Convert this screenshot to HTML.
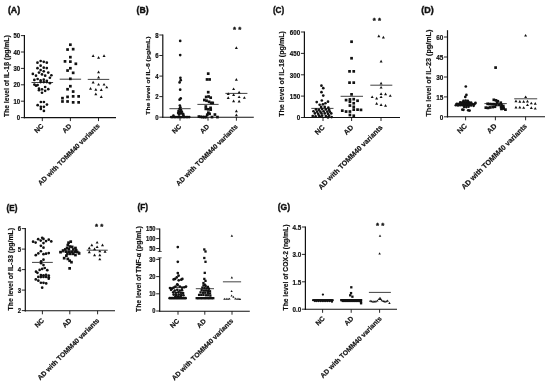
<!DOCTYPE html>
<html lang="en"><head><meta charset="utf-8"><title>Figure</title>
<style>
html,body{margin:0;padding:0;background:#fff;}
body{width:550px;height:385px;overflow:hidden;}
svg{display:block;font-family:"Liberation Sans", Arial, Helvetica, sans-serif;fill:#111;}
</style></head>
<body>
<svg width="550" height="385" viewBox="0 0 550 385">
<rect x="0" y="0" width="550" height="385" fill="#ffffff"/>
<g id="panelA">
<line x1="24.40" y1="35.00" x2="24.40" y2="118.20" stroke="#111" stroke-width="1.2"/>
<line x1="23.80" y1="117.60" x2="116.00" y2="117.60" stroke="#111" stroke-width="1.05"/>
<line x1="20.90" y1="117.60" x2="24.40" y2="117.60" stroke="#111" stroke-width="0.9"/>
<text transform="translate(20.20 120.22) scale(1 1.22)" font-size="6.0" text-anchor="end" font-weight="bold" stroke="#111" stroke-width="0.18">0</text>
<line x1="20.90" y1="101.20" x2="24.40" y2="101.20" stroke="#111" stroke-width="0.9"/>
<text transform="translate(20.20 103.82) scale(1 1.22)" font-size="6.0" text-anchor="end" font-weight="bold" stroke="#111" stroke-width="0.18">10</text>
<line x1="20.90" y1="84.80" x2="24.40" y2="84.80" stroke="#111" stroke-width="0.9"/>
<text transform="translate(20.20 87.42) scale(1 1.22)" font-size="6.0" text-anchor="end" font-weight="bold" stroke="#111" stroke-width="0.18">20</text>
<line x1="20.90" y1="68.40" x2="24.40" y2="68.40" stroke="#111" stroke-width="0.9"/>
<text transform="translate(20.20 71.02) scale(1 1.22)" font-size="6.0" text-anchor="end" font-weight="bold" stroke="#111" stroke-width="0.18">30</text>
<line x1="20.90" y1="52.00" x2="24.40" y2="52.00" stroke="#111" stroke-width="0.9"/>
<text transform="translate(20.20 54.62) scale(1 1.22)" font-size="6.0" text-anchor="end" font-weight="bold" stroke="#111" stroke-width="0.18">40</text>
<line x1="20.90" y1="35.60" x2="24.40" y2="35.60" stroke="#111" stroke-width="0.9"/>
<text transform="translate(20.20 38.22) scale(1 1.22)" font-size="6.0" text-anchor="end" font-weight="bold" stroke="#111" stroke-width="0.18">50</text>
<line x1="42.30" y1="117.60" x2="42.30" y2="121.10" stroke="#111" stroke-width="0.9"/>
<text x="44.00" y="126.40" font-size="6.85" text-anchor="end" font-weight="bold" transform="rotate(-45 44.00 126.40)" stroke="#111" stroke-width="0.18">NC</text>
<line x1="70.40" y1="117.60" x2="70.40" y2="121.10" stroke="#111" stroke-width="0.9"/>
<text x="72.10" y="126.40" font-size="6.85" text-anchor="end" font-weight="bold" transform="rotate(-45 72.10 126.40)" stroke="#111" stroke-width="0.18">AD</text>
<line x1="98.50" y1="117.60" x2="98.50" y2="121.10" stroke="#111" stroke-width="0.9"/>
<text x="100.20" y="126.40" font-size="6.85" text-anchor="end" font-weight="bold" transform="rotate(-45 100.20 126.40)" stroke="#111" stroke-width="0.18">AD with TOMM40 variants</text>
<text transform="translate(9.30 76.15) rotate(-90) scale(1 1)" font-size="6.75" text-anchor="middle" font-weight="bold" stroke="#111" stroke-width="0.18">The level of IL-1β (pg/mL)</text>
<text x="7.9" y="12.95" font-size="8.6" font-weight="bold" textLength="12.3" lengthAdjust="spacingAndGlyphs" stroke="#111" stroke-width="0.4">(A)</text>
<circle cx="37.47" cy="62.64" r="1.35"/>
<circle cx="40.64" cy="61.00" r="1.35"/>
<circle cx="43.75" cy="61.82" r="1.35"/>
<circle cx="46.80" cy="62.64" r="1.35"/>
<circle cx="40.64" cy="65.64" r="1.35"/>
<circle cx="37.47" cy="68.20" r="1.35"/>
<circle cx="43.75" cy="67.71" r="1.35"/>
<circle cx="46.80" cy="68.09" r="1.35"/>
<circle cx="40.64" cy="70.11" r="1.35"/>
<circle cx="43.75" cy="71.36" r="1.35"/>
<circle cx="32.84" cy="73.91" r="1.35"/>
<circle cx="36.00" cy="75.71" r="1.35"/>
<circle cx="39.00" cy="72.55" r="1.35"/>
<circle cx="42.00" cy="74.45" r="1.35"/>
<circle cx="45.16" cy="75.71" r="1.35"/>
<circle cx="48.27" cy="72.55" r="1.35"/>
<circle cx="51.38" cy="75.27" r="1.35"/>
<circle cx="49.91" cy="77.73" r="1.35"/>
<circle cx="34.36" cy="79.91" r="1.35"/>
<circle cx="37.64" cy="78.98" r="1.35"/>
<circle cx="40.64" cy="80.45" r="1.35"/>
<circle cx="43.75" cy="79.64" r="1.35"/>
<circle cx="46.80" cy="80.73" r="1.35"/>
<circle cx="40.64" cy="82.09" r="1.35"/>
<circle cx="43.75" cy="82.09" r="1.35"/>
<circle cx="46.80" cy="82.09" r="1.35"/>
<circle cx="49.91" cy="83.18" r="1.35"/>
<circle cx="34.36" cy="84.55" r="1.35"/>
<circle cx="36.00" cy="85.64" r="1.35"/>
<circle cx="37.64" cy="85.09" r="1.35"/>
<circle cx="39.00" cy="88.64" r="1.35"/>
<circle cx="39.00" cy="90.27" r="1.35"/>
<circle cx="42.00" cy="89.35" r="1.35"/>
<circle cx="45.16" cy="87.00" r="1.35"/>
<circle cx="45.16" cy="90.82" r="1.35"/>
<circle cx="48.27" cy="89.18" r="1.35"/>
<circle cx="42.00" cy="92.73" r="1.35"/>
<circle cx="40.84" cy="101.98" r="1.35"/>
<circle cx="43.89" cy="101.98" r="1.35"/>
<circle cx="37.65" cy="105.16" r="1.35"/>
<circle cx="46.95" cy="104.53" r="1.35"/>
<circle cx="40.84" cy="106.82" r="1.35"/>
<circle cx="43.89" cy="106.82" r="1.35"/>
<circle cx="40.84" cy="108.98" r="1.35"/>
<circle cx="43.89" cy="110.89" r="1.35"/>
<line x1="31.50" y1="82.50" x2="53.10" y2="82.50" stroke="#111" stroke-width="0.8"/>
<rect x="69.01" y="43.36" width="2.7" height="2.7"/>
<rect x="66.21" y="48.20" width="2.7" height="2.7"/>
<rect x="71.81" y="47.81" width="2.7" height="2.7"/>
<rect x="69.01" y="55.83" width="2.7" height="2.7"/>
<rect x="63.67" y="60.03" width="2.7" height="2.7"/>
<rect x="69.01" y="60.29" width="2.7" height="2.7"/>
<rect x="74.49" y="62.45" width="2.7" height="2.7"/>
<rect x="69.01" y="66.90" width="2.7" height="2.7"/>
<rect x="66.21" y="69.20" width="2.7" height="2.7"/>
<rect x="71.81" y="71.49" width="2.7" height="2.7"/>
<rect x="69.01" y="77.47" width="2.7" height="2.7"/>
<rect x="69.01" y="84.85" width="2.7" height="2.7"/>
<rect x="66.21" y="87.90" width="2.7" height="2.7"/>
<rect x="71.81" y="90.20" width="2.7" height="2.7"/>
<rect x="66.21" y="95.54" width="2.7" height="2.7"/>
<rect x="71.81" y="95.03" width="2.7" height="2.7"/>
<rect x="77.29" y="95.03" width="2.7" height="2.7"/>
<rect x="61.12" y="96.81" width="2.7" height="2.7"/>
<rect x="61.12" y="100.12" width="2.7" height="2.7"/>
<rect x="66.21" y="100.12" width="2.7" height="2.7"/>
<rect x="71.81" y="101.01" width="2.7" height="2.7"/>
<rect x="77.29" y="101.01" width="2.7" height="2.7"/>
<line x1="59.70" y1="79.20" x2="81.10" y2="79.20" stroke="#111" stroke-width="0.8"/>
<path d="M93.13 54.34L94.63 57.04L91.63 57.04Z"/>
<path d="M98.58 56.01L100.08 58.71L97.08 58.71Z"/>
<path d="M104.04 54.34L105.54 57.04L102.54 57.04Z"/>
<path d="M98.58 70.56L100.08 73.26L97.08 73.26Z"/>
<path d="M98.58 75.78L100.08 78.48L97.08 78.48Z"/>
<path d="M93.13 80.70L94.63 83.40L91.63 83.40Z"/>
<path d="M98.58 82.88L100.08 85.58L97.08 85.58Z"/>
<path d="M104.04 82.88L105.54 85.58L102.54 85.58Z"/>
<path d="M106.73 85.64L108.23 88.34L105.23 88.34Z"/>
<path d="M90.51 87.09L92.01 89.80L89.01 89.80Z"/>
<path d="M95.82 87.97L97.32 90.67L94.32 90.67Z"/>
<path d="M101.27 88.33L102.77 91.03L99.77 91.03Z"/>
<path d="M95.82 92.47L97.32 95.17L94.32 95.17Z"/>
<path d="M101.27 95.25L102.77 97.95L99.77 97.95Z"/>
<line x1="87.75" y1="79.40" x2="109.25" y2="79.40" stroke="#111" stroke-width="0.8"/>
</g>
<g id="panelB">
<line x1="162.80" y1="34.40" x2="162.80" y2="117.80" stroke="#111" stroke-width="1.2"/>
<line x1="162.20" y1="117.20" x2="253.80" y2="117.20" stroke="#111" stroke-width="1.05"/>
<line x1="159.30" y1="117.20" x2="162.80" y2="117.20" stroke="#111" stroke-width="0.9"/>
<text transform="translate(158.60 119.82) scale(1 1.22)" font-size="6.0" text-anchor="end" font-weight="bold" stroke="#111" stroke-width="0.18">0</text>
<line x1="159.30" y1="96.60" x2="162.80" y2="96.60" stroke="#111" stroke-width="0.9"/>
<text transform="translate(158.60 99.22) scale(1 1.22)" font-size="6.0" text-anchor="end" font-weight="bold" stroke="#111" stroke-width="0.18">2</text>
<line x1="159.30" y1="76.10" x2="162.80" y2="76.10" stroke="#111" stroke-width="0.9"/>
<text transform="translate(158.60 78.72) scale(1 1.22)" font-size="6.0" text-anchor="end" font-weight="bold" stroke="#111" stroke-width="0.18">4</text>
<line x1="159.30" y1="55.50" x2="162.80" y2="55.50" stroke="#111" stroke-width="0.9"/>
<text transform="translate(158.60 58.12) scale(1 1.22)" font-size="6.0" text-anchor="end" font-weight="bold" stroke="#111" stroke-width="0.18">6</text>
<line x1="159.30" y1="35.00" x2="162.80" y2="35.00" stroke="#111" stroke-width="0.9"/>
<text transform="translate(158.60 37.62) scale(1 1.22)" font-size="6.0" text-anchor="end" font-weight="bold" stroke="#111" stroke-width="0.18">8</text>
<line x1="180.00" y1="117.20" x2="180.00" y2="120.70" stroke="#111" stroke-width="0.9"/>
<text x="181.70" y="127.00" font-size="6.85" text-anchor="end" font-weight="bold" transform="rotate(-45 181.70 127.00)" stroke="#111" stroke-width="0.18">NC</text>
<line x1="208.00" y1="117.20" x2="208.00" y2="120.70" stroke="#111" stroke-width="0.9"/>
<text x="209.70" y="127.00" font-size="6.85" text-anchor="end" font-weight="bold" transform="rotate(-45 209.70 127.00)" stroke="#111" stroke-width="0.18">AD</text>
<line x1="236.40" y1="117.20" x2="236.40" y2="120.70" stroke="#111" stroke-width="0.9"/>
<text x="238.10" y="127.00" font-size="6.85" text-anchor="end" font-weight="bold" transform="rotate(-45 238.10 127.00)" stroke="#111" stroke-width="0.18">AD with TOMM40 variants</text>
<text transform="translate(150.30 75.60) rotate(-90) scale(1 0.87)" font-size="6.82" text-anchor="middle" font-weight="bold" stroke="#111" stroke-width="0.18">The level of IL-6 (pg/mL)</text>
<text x="136.6" y="12.95" font-size="8.6" font-weight="bold" textLength="12.0" lengthAdjust="spacingAndGlyphs" stroke="#111" stroke-width="0.4">(B)</text>
<text x="234.58 239.82" y="31.60" font-size="7.8" font-weight="bold" text-anchor="middle" stroke="#111" stroke-width="0.35">**</text>
<circle cx="180.20" cy="40.90" r="1.35"/>
<circle cx="180.20" cy="55.05" r="1.35"/>
<circle cx="180.40" cy="77.85" r="1.35"/>
<circle cx="180.70" cy="80.20" r="1.35"/>
<circle cx="179.60" cy="82.40" r="1.35"/>
<circle cx="180.20" cy="89.70" r="1.35"/>
<circle cx="180.70" cy="98.40" r="1.35"/>
<circle cx="179.60" cy="99.70" r="1.35"/>
<circle cx="179.85" cy="105.50" r="1.35"/>
<circle cx="180.36" cy="107.27" r="1.35"/>
<circle cx="179.49" cy="108.87" r="1.35"/>
<circle cx="180.95" cy="109.82" r="1.35"/>
<circle cx="178.55" cy="110.91" r="1.35"/>
<circle cx="180.22" cy="111.49" r="1.35"/>
<circle cx="181.82" cy="111.64" r="1.35"/>
<circle cx="178.18" cy="112.95" r="1.35"/>
<circle cx="180.00" cy="113.31" r="1.35"/>
<circle cx="181.67" cy="113.45" r="1.35"/>
<circle cx="183.13" cy="113.82" r="1.35"/>
<circle cx="183.42" cy="115.13" r="1.35"/>
<circle cx="179.05" cy="114.55" r="1.35"/>
<circle cx="173.45" cy="115.64" r="1.35"/>
<circle cx="171.20" cy="117.10" r="1.35"/>
<circle cx="172.70" cy="117.10" r="1.35"/>
<circle cx="174.20" cy="117.10" r="1.35"/>
<circle cx="175.70" cy="117.10" r="1.35"/>
<circle cx="177.20" cy="117.10" r="1.35"/>
<circle cx="178.70" cy="117.10" r="1.35"/>
<circle cx="180.20" cy="117.10" r="1.35"/>
<circle cx="181.70" cy="117.10" r="1.35"/>
<circle cx="183.20" cy="117.10" r="1.35"/>
<circle cx="184.70" cy="117.10" r="1.35"/>
<circle cx="186.20" cy="117.10" r="1.35"/>
<circle cx="187.70" cy="117.10" r="1.35"/>
<circle cx="189.20" cy="117.10" r="1.35"/>
<line x1="169.40" y1="108.70" x2="190.60" y2="108.70" stroke="#111" stroke-width="0.8"/>
<rect x="206.87" y="72.29" width="2.7" height="2.7"/>
<rect x="205.70" y="78.10" width="2.7" height="2.7"/>
<rect x="208.25" y="78.10" width="2.7" height="2.7"/>
<rect x="206.87" y="90.83" width="2.7" height="2.7"/>
<rect x="204.83" y="95.60" width="2.7" height="2.7"/>
<rect x="207.23" y="95.16" width="2.7" height="2.7"/>
<rect x="209.34" y="96.32" width="2.7" height="2.7"/>
<rect x="203.01" y="98.65" width="2.7" height="2.7"/>
<rect x="205.20" y="99.38" width="2.7" height="2.7"/>
<rect x="207.74" y="100.47" width="2.7" height="2.7"/>
<rect x="209.78" y="101.56" width="2.7" height="2.7"/>
<rect x="211.38" y="101.56" width="2.7" height="2.7"/>
<rect x="204.47" y="105.20" width="2.7" height="2.7"/>
<rect x="204.47" y="107.52" width="2.7" height="2.7"/>
<rect x="206.87" y="107.96" width="2.7" height="2.7"/>
<rect x="209.20" y="106.50" width="2.7" height="2.7"/>
<rect x="209.34" y="108.25" width="2.7" height="2.7"/>
<rect x="207.01" y="111.38" width="2.7" height="2.7"/>
<rect x="205.92" y="113.34" width="2.7" height="2.7"/>
<rect x="208.25" y="112.47" width="2.7" height="2.7"/>
<rect x="213.56" y="113.20" width="2.7" height="2.7"/>
<rect x="197.56" y="115.23" width="2.7" height="2.7"/>
<rect x="199.38" y="115.52" width="2.7" height="2.7"/>
<rect x="201.20" y="115.74" width="2.7" height="2.7"/>
<rect x="203.01" y="115.74" width="2.7" height="2.7"/>
<rect x="204.83" y="115.74" width="2.7" height="2.7"/>
<rect x="210.65" y="115.74" width="2.7" height="2.7"/>
<rect x="216.10" y="115.74" width="2.7" height="2.7"/>
<line x1="197.40" y1="104.40" x2="218.60" y2="104.40" stroke="#111" stroke-width="0.8"/>
<path d="M236.36 46.30L237.86 49.00L234.86 49.00Z"/>
<path d="M236.36 77.97L237.86 80.67L234.86 80.67Z"/>
<path d="M233.60 87.42L235.10 90.12L232.10 90.12Z"/>
<path d="M239.13 90.70L240.63 93.40L237.63 93.40Z"/>
<path d="M228.22 92.30L229.72 95.00L226.72 95.00Z"/>
<path d="M233.60 93.25L235.10 95.95L232.10 95.95Z"/>
<path d="M239.13 95.42L240.63 98.12L237.63 98.12Z"/>
<path d="M228.22 96.36L229.72 99.06L226.72 99.06Z"/>
<path d="M244.36 96.16L245.86 98.86L242.86 98.86Z"/>
<path d="M233.60 99.56L235.10 102.27L232.10 102.27Z"/>
<path d="M239.13 99.78L240.63 102.48L237.63 102.48Z"/>
<path d="M236.36 109.61L237.86 112.31L234.86 112.31Z"/>
<path d="M236.36 113.61L237.86 116.31L234.86 116.31Z"/>
<line x1="225.40" y1="93.40" x2="247.40" y2="93.40" stroke="#111" stroke-width="0.8"/>
</g>
<g id="panelC">
<line x1="304.40" y1="31.40" x2="304.40" y2="118.10" stroke="#111" stroke-width="1.2"/>
<line x1="303.80" y1="117.50" x2="400.00" y2="117.50" stroke="#111" stroke-width="1.05"/>
<line x1="300.90" y1="117.50" x2="304.40" y2="117.50" stroke="#111" stroke-width="0.9"/>
<text transform="translate(300.20 120.21) scale(1 1.22)" font-size="6.2" text-anchor="end" font-weight="bold" stroke="#111" stroke-width="0.18">0</text>
<line x1="300.90" y1="96.10" x2="304.40" y2="96.10" stroke="#111" stroke-width="0.9"/>
<text transform="translate(300.20 98.81) scale(1 1.22)" font-size="6.2" text-anchor="end" font-weight="bold" stroke="#111" stroke-width="0.18">150</text>
<line x1="300.90" y1="74.80" x2="304.40" y2="74.80" stroke="#111" stroke-width="0.9"/>
<text transform="translate(300.20 77.51) scale(1 1.22)" font-size="6.2" text-anchor="end" font-weight="bold" stroke="#111" stroke-width="0.18">300</text>
<line x1="300.90" y1="53.40" x2="304.40" y2="53.40" stroke="#111" stroke-width="0.9"/>
<text transform="translate(300.20 56.11) scale(1 1.22)" font-size="6.2" text-anchor="end" font-weight="bold" stroke="#111" stroke-width="0.18">450</text>
<line x1="300.90" y1="32.00" x2="304.40" y2="32.00" stroke="#111" stroke-width="0.9"/>
<text transform="translate(300.20 34.71) scale(1 1.22)" font-size="6.2" text-anchor="end" font-weight="bold" stroke="#111" stroke-width="0.18">600</text>
<line x1="323.00" y1="117.50" x2="323.00" y2="121.00" stroke="#111" stroke-width="0.9"/>
<text x="325.20" y="127.90" font-size="7.17" text-anchor="end" font-weight="bold" transform="rotate(-45 325.20 127.90)" stroke="#111" stroke-width="0.18">NC</text>
<line x1="351.60" y1="117.50" x2="351.60" y2="121.00" stroke="#111" stroke-width="0.9"/>
<text x="353.80" y="127.90" font-size="7.17" text-anchor="end" font-weight="bold" transform="rotate(-45 353.80 127.90)" stroke="#111" stroke-width="0.18">AD</text>
<line x1="381.00" y1="117.50" x2="381.00" y2="121.00" stroke="#111" stroke-width="0.9"/>
<text x="383.20" y="127.90" font-size="7.17" text-anchor="end" font-weight="bold" transform="rotate(-45 383.20 127.90)" stroke="#111" stroke-width="0.18">AD with TOMM40 variants</text>
<text transform="translate(283.90 73.95) rotate(-90) scale(1 0.94)" font-size="7.14" text-anchor="middle" font-weight="bold" stroke="#111" stroke-width="0.18">The level of IL-18 (pg/mL)</text>
<text x="272.9" y="12.7" font-size="8.6" font-weight="bold" textLength="11.3" lengthAdjust="spacingAndGlyphs" stroke="#111" stroke-width="0.4">(C)</text>
<text x="374.38 379.62" y="23.20" font-size="7.8" font-weight="bold" text-anchor="middle" stroke="#111" stroke-width="0.35">**</text>
<circle cx="321.45" cy="85.64" r="1.35"/>
<circle cx="323.27" cy="88.18" r="1.35"/>
<circle cx="321.45" cy="92.18" r="1.35"/>
<circle cx="323.27" cy="95.60" r="1.35"/>
<circle cx="321.82" cy="100.51" r="1.35"/>
<circle cx="316.73" cy="102.04" r="1.35"/>
<circle cx="328.00" cy="101.67" r="1.35"/>
<circle cx="319.64" cy="104.73" r="1.35"/>
<circle cx="322.91" cy="104.36" r="1.35"/>
<circle cx="325.45" cy="103.27" r="1.35"/>
<circle cx="321.09" cy="106.91" r="1.35"/>
<circle cx="324.73" cy="106.91" r="1.35"/>
<circle cx="328.36" cy="107.64" r="1.35"/>
<circle cx="316.00" cy="109.45" r="1.35"/>
<circle cx="318.91" cy="109.82" r="1.35"/>
<circle cx="322.18" cy="109.09" r="1.35"/>
<circle cx="325.82" cy="109.45" r="1.35"/>
<circle cx="329.09" cy="109.82" r="1.35"/>
<circle cx="313.45" cy="111.27" r="1.35"/>
<circle cx="317.09" cy="111.64" r="1.35"/>
<circle cx="320.36" cy="111.64" r="1.35"/>
<circle cx="323.64" cy="111.27" r="1.35"/>
<circle cx="327.27" cy="111.64" r="1.35"/>
<circle cx="329.82" cy="111.64" r="1.35"/>
<circle cx="314.91" cy="113.45" r="1.35"/>
<circle cx="318.18" cy="113.82" r="1.35"/>
<circle cx="321.45" cy="113.45" r="1.35"/>
<circle cx="324.73" cy="113.45" r="1.35"/>
<circle cx="328.00" cy="113.82" r="1.35"/>
<circle cx="331.27" cy="113.45" r="1.35"/>
<circle cx="312.73" cy="116.00" r="1.35"/>
<circle cx="315.64" cy="116.36" r="1.35"/>
<circle cx="318.91" cy="115.64" r="1.35"/>
<circle cx="322.18" cy="115.64" r="1.35"/>
<circle cx="325.82" cy="116.00" r="1.35"/>
<circle cx="329.09" cy="115.64" r="1.35"/>
<circle cx="331.64" cy="117.09" r="1.35"/>
<circle cx="328.00" cy="117.45" r="1.35"/>
<circle cx="320.36" cy="116.73" r="1.35"/>
<line x1="311.30" y1="108.40" x2="333.50" y2="108.40" stroke="#111" stroke-width="0.8"/>
<rect x="350.21" y="40.36" width="2.7" height="2.7"/>
<rect x="350.21" y="56.90" width="2.7" height="2.7"/>
<rect x="348.18" y="70.01" width="2.7" height="2.7"/>
<rect x="352.38" y="70.01" width="2.7" height="2.7"/>
<rect x="348.18" y="81.30" width="2.7" height="2.7"/>
<rect x="352.38" y="81.30" width="2.7" height="2.7"/>
<rect x="350.21" y="93.01" width="2.7" height="2.7"/>
<rect x="344.74" y="98.74" width="2.7" height="2.7"/>
<rect x="348.56" y="98.10" width="2.7" height="2.7"/>
<rect x="352.38" y="97.85" width="2.7" height="2.7"/>
<rect x="356.20" y="99.38" width="2.7" height="2.7"/>
<rect x="348.56" y="100.40" width="2.7" height="2.7"/>
<rect x="352.38" y="101.92" width="2.7" height="2.7"/>
<rect x="348.56" y="104.21" width="2.7" height="2.7"/>
<rect x="352.38" y="105.49" width="2.7" height="2.7"/>
<rect x="340.92" y="109.30" width="2.7" height="2.7"/>
<rect x="344.74" y="110.20" width="2.7" height="2.7"/>
<rect x="348.56" y="110.20" width="2.7" height="2.7"/>
<rect x="352.38" y="108.29" width="2.7" height="2.7"/>
<rect x="356.20" y="108.29" width="2.7" height="2.7"/>
<rect x="359.63" y="108.54" width="2.7" height="2.7"/>
<rect x="348.56" y="113.63" width="2.7" height="2.7"/>
<rect x="352.38" y="114.40" width="2.7" height="2.7"/>
<line x1="340.60" y1="96.30" x2="363.00" y2="96.30" stroke="#111" stroke-width="0.8"/>
<path d="M378.80 34.49L380.30 37.20L377.30 37.20Z"/>
<path d="M383.38 35.77L384.88 38.47L381.88 38.47Z"/>
<path d="M381.09 59.70L382.59 62.40L379.59 62.40Z"/>
<path d="M381.09 81.67L382.59 84.38L379.59 84.38Z"/>
<path d="M381.09 85.88L382.59 88.58L379.59 88.58Z"/>
<path d="M381.09 92.25L382.59 94.95L379.59 94.95Z"/>
<path d="M385.55 92.62L387.05 95.33L384.05 95.33Z"/>
<path d="M390.25 94.16L391.75 96.86L388.75 96.86Z"/>
<path d="M372.18 95.42L373.68 98.12L370.68 98.12Z"/>
<path d="M376.64 96.70L378.14 99.40L375.14 99.40Z"/>
<path d="M381.09 95.42L382.59 98.12L379.59 98.12Z"/>
<path d="M376.64 102.05L378.14 104.75L375.14 104.75Z"/>
<path d="M381.09 103.31L382.59 106.02L379.59 106.02Z"/>
<path d="M385.55 104.08L387.05 106.78L384.05 106.78Z"/>
<line x1="370.30" y1="85.20" x2="392.30" y2="85.20" stroke="#111" stroke-width="0.8"/>
</g>
<g id="panelD">
<line x1="447.50" y1="30.20" x2="447.50" y2="117.40" stroke="#111" stroke-width="1.2"/>
<line x1="446.90" y1="116.80" x2="545.00" y2="116.80" stroke="#111" stroke-width="1.05"/>
<line x1="444.00" y1="116.80" x2="447.50" y2="116.80" stroke="#111" stroke-width="0.9"/>
<text transform="translate(443.30 119.60) scale(1 1.22)" font-size="6.4" text-anchor="end" font-weight="bold" stroke="#111" stroke-width="0.18">0</text>
<line x1="444.00" y1="96.90" x2="447.50" y2="96.90" stroke="#111" stroke-width="0.9"/>
<text transform="translate(443.30 99.70) scale(1 1.22)" font-size="6.4" text-anchor="end" font-weight="bold" stroke="#111" stroke-width="0.18">15</text>
<line x1="444.00" y1="77.00" x2="447.50" y2="77.00" stroke="#111" stroke-width="0.9"/>
<text transform="translate(443.30 79.80) scale(1 1.22)" font-size="6.4" text-anchor="end" font-weight="bold" stroke="#111" stroke-width="0.18">30</text>
<line x1="444.00" y1="57.00" x2="447.50" y2="57.00" stroke="#111" stroke-width="0.9"/>
<text transform="translate(443.30 59.80) scale(1 1.22)" font-size="6.4" text-anchor="end" font-weight="bold" stroke="#111" stroke-width="0.18">45</text>
<line x1="444.00" y1="37.00" x2="447.50" y2="37.00" stroke="#111" stroke-width="0.9"/>
<text transform="translate(443.30 39.80) scale(1 1.22)" font-size="6.4" text-anchor="end" font-weight="bold" stroke="#111" stroke-width="0.18">60</text>
<line x1="465.60" y1="116.80" x2="465.60" y2="120.30" stroke="#111" stroke-width="0.9"/>
<text x="467.50" y="126.60" font-size="7.3" text-anchor="end" font-weight="bold" transform="rotate(-45 467.50 126.60)" stroke="#111" stroke-width="0.18">NC</text>
<line x1="495.40" y1="116.80" x2="495.40" y2="120.30" stroke="#111" stroke-width="0.9"/>
<text x="497.30" y="126.60" font-size="7.3" text-anchor="end" font-weight="bold" transform="rotate(-45 497.30 126.60)" stroke="#111" stroke-width="0.18">AD</text>
<line x1="525.60" y1="116.80" x2="525.60" y2="120.30" stroke="#111" stroke-width="0.9"/>
<text x="527.50" y="126.60" font-size="7.3" text-anchor="end" font-weight="bold" transform="rotate(-45 527.50 126.60)" stroke="#111" stroke-width="0.18">AD with TOMM40 variants</text>
<text transform="translate(430.80 73.05) rotate(-90) scale(1 0.94)" font-size="7.22" text-anchor="middle" font-weight="bold" stroke="#111" stroke-width="0.18">The level of IL-23 (pg/mL)</text>
<text x="421.3" y="12.75" font-size="8.6" font-weight="bold" textLength="12.4" lengthAdjust="spacingAndGlyphs" stroke="#111" stroke-width="0.4">(D)</text>
<circle cx="465.80" cy="86.50" r="1.35"/>
<circle cx="466.40" cy="94.95" r="1.35"/>
<circle cx="465.30" cy="96.90" r="1.35"/>
<circle cx="463.45" cy="100.91" r="1.35"/>
<circle cx="465.64" cy="100.55" r="1.35"/>
<circle cx="467.82" cy="100.91" r="1.35"/>
<circle cx="460.18" cy="102.36" r="1.35"/>
<circle cx="462.36" cy="102.36" r="1.35"/>
<circle cx="464.55" cy="102.36" r="1.35"/>
<circle cx="466.73" cy="102.36" r="1.35"/>
<circle cx="468.91" cy="102.36" r="1.35"/>
<circle cx="471.09" cy="102.58" r="1.35"/>
<circle cx="475.45" cy="102.73" r="1.35"/>
<circle cx="456.91" cy="103.82" r="1.35"/>
<circle cx="459.09" cy="104.04" r="1.35"/>
<circle cx="461.27" cy="103.82" r="1.35"/>
<circle cx="463.45" cy="103.82" r="1.35"/>
<circle cx="465.64" cy="103.82" r="1.35"/>
<circle cx="467.82" cy="103.82" r="1.35"/>
<circle cx="470.00" cy="103.82" r="1.35"/>
<circle cx="472.18" cy="104.04" r="1.35"/>
<circle cx="474.36" cy="104.18" r="1.35"/>
<circle cx="455.82" cy="105.27" r="1.35"/>
<circle cx="458.00" cy="105.49" r="1.35"/>
<circle cx="460.18" cy="105.27" r="1.35"/>
<circle cx="462.36" cy="105.27" r="1.35"/>
<circle cx="464.55" cy="105.27" r="1.35"/>
<circle cx="466.73" cy="105.27" r="1.35"/>
<circle cx="468.91" cy="105.27" r="1.35"/>
<circle cx="471.09" cy="105.49" r="1.35"/>
<circle cx="473.64" cy="105.78" r="1.35"/>
<circle cx="464.18" cy="106.95" r="1.35"/>
<circle cx="466.36" cy="107.09" r="1.35"/>
<circle cx="468.55" cy="106.73" r="1.35"/>
<circle cx="462.36" cy="109.64" r="1.35"/>
<circle cx="463.45" cy="109.85" r="1.35"/>
<circle cx="468.18" cy="110.36" r="1.35"/>
<circle cx="469.64" cy="110.58" r="1.35"/>
<line x1="455.20" y1="103.70" x2="476.80" y2="103.70" stroke="#111" stroke-width="0.8"/>
<rect x="494.25" y="66.25" width="2.7" height="2.7"/>
<rect x="492.47" y="98.47" width="2.7" height="2.7"/>
<rect x="494.65" y="99.05" width="2.7" height="2.7"/>
<rect x="496.47" y="99.92" width="2.7" height="2.7"/>
<rect x="499.38" y="101.38" width="2.7" height="2.7"/>
<rect x="495.74" y="101.23" width="2.7" height="2.7"/>
<rect x="486.29" y="102.47" width="2.7" height="2.7"/>
<rect x="488.47" y="102.69" width="2.7" height="2.7"/>
<rect x="490.65" y="102.83" width="2.7" height="2.7"/>
<rect x="492.83" y="102.83" width="2.7" height="2.7"/>
<rect x="495.01" y="103.56" width="2.7" height="2.7"/>
<rect x="497.56" y="103.56" width="2.7" height="2.7"/>
<rect x="500.10" y="103.56" width="2.7" height="2.7"/>
<rect x="501.92" y="104.65" width="2.7" height="2.7"/>
<rect x="484.47" y="106.32" width="2.7" height="2.7"/>
<rect x="486.65" y="106.61" width="2.7" height="2.7"/>
<rect x="488.83" y="106.10" width="2.7" height="2.7"/>
<rect x="491.38" y="105.74" width="2.7" height="2.7"/>
<rect x="493.56" y="105.38" width="2.7" height="2.7"/>
<rect x="499.74" y="105.74" width="2.7" height="2.7"/>
<rect x="501.92" y="106.47" width="2.7" height="2.7"/>
<rect x="500.10" y="107.56" width="2.7" height="2.7"/>
<rect x="504.10" y="108.29" width="2.7" height="2.7"/>
<rect x="502.29" y="107.20" width="2.7" height="2.7"/>
<line x1="484.40" y1="103.60" x2="506.80" y2="103.60" stroke="#111" stroke-width="0.8"/>
<path d="M525.60 33.91L527.10 36.62L524.10 36.62Z"/>
<path d="M525.64 95.39L527.14 98.09L524.14 98.09Z"/>
<path d="M515.96 99.47L517.46 102.17L514.46 102.17Z"/>
<path d="M519.82 99.97L521.32 102.67L518.32 102.67Z"/>
<path d="M523.67 99.97L525.17 102.67L522.17 102.67Z"/>
<path d="M527.45 99.83L528.95 102.53L525.95 102.53Z"/>
<path d="M531.31 101.64L532.81 104.34L529.81 104.34Z"/>
<path d="M535.24 101.94L536.74 104.64L533.74 104.64Z"/>
<path d="M527.45 103.39L528.95 106.09L525.95 106.09Z"/>
<path d="M515.96 105.78L517.46 108.48L514.46 108.48Z"/>
<path d="M519.82 105.78L521.32 108.48L518.32 108.48Z"/>
<path d="M523.67 106.16L525.17 108.86L522.17 108.86Z"/>
<path d="M531.31 106.30L532.81 109.00L529.81 109.00Z"/>
<path d="M535.24 106.88L536.74 109.58L533.74 109.58Z"/>
<line x1="514.20" y1="98.80" x2="537.20" y2="98.80" stroke="#111" stroke-width="0.8"/>
</g>
<g id="panelE">
<line x1="25.30" y1="228.00" x2="25.30" y2="311.40" stroke="#111" stroke-width="1.2"/>
<line x1="24.70" y1="310.80" x2="115.00" y2="310.80" stroke="#111" stroke-width="1.05"/>
<line x1="21.80" y1="310.60" x2="25.30" y2="310.60" stroke="#111" stroke-width="0.9"/>
<text transform="translate(21.10 313.22) scale(1 1.22)" font-size="6.0" text-anchor="end" font-weight="bold" stroke="#111" stroke-width="0.18">2</text>
<line x1="21.80" y1="290.10" x2="25.30" y2="290.10" stroke="#111" stroke-width="0.9"/>
<text transform="translate(21.10 292.72) scale(1 1.22)" font-size="6.0" text-anchor="end" font-weight="bold" stroke="#111" stroke-width="0.18">3</text>
<line x1="21.80" y1="269.60" x2="25.30" y2="269.60" stroke="#111" stroke-width="0.9"/>
<text transform="translate(21.10 272.22) scale(1 1.22)" font-size="6.0" text-anchor="end" font-weight="bold" stroke="#111" stroke-width="0.18">4</text>
<line x1="21.80" y1="249.10" x2="25.30" y2="249.10" stroke="#111" stroke-width="0.9"/>
<text transform="translate(21.10 251.72) scale(1 1.22)" font-size="6.0" text-anchor="end" font-weight="bold" stroke="#111" stroke-width="0.18">5</text>
<line x1="21.80" y1="228.60" x2="25.30" y2="228.60" stroke="#111" stroke-width="0.9"/>
<text transform="translate(21.10 231.22) scale(1 1.22)" font-size="6.0" text-anchor="end" font-weight="bold" stroke="#111" stroke-width="0.18">6</text>
<line x1="42.40" y1="310.80" x2="42.40" y2="314.30" stroke="#111" stroke-width="0.9"/>
<text x="44.60" y="321.00" font-size="6.88" text-anchor="end" font-weight="bold" transform="rotate(-45 44.60 321.00)" stroke="#111" stroke-width="0.18">NC</text>
<line x1="69.80" y1="310.80" x2="69.80" y2="314.30" stroke="#111" stroke-width="0.9"/>
<text x="72.00" y="321.00" font-size="6.88" text-anchor="end" font-weight="bold" transform="rotate(-45 72.00 321.00)" stroke="#111" stroke-width="0.18">AD</text>
<line x1="97.60" y1="310.80" x2="97.60" y2="314.30" stroke="#111" stroke-width="0.9"/>
<text x="99.80" y="321.00" font-size="6.88" text-anchor="end" font-weight="bold" transform="rotate(-45 99.80 321.00)" stroke="#111" stroke-width="0.18">AD with TOMM40 variants</text>
<text transform="translate(13.35 269.25) rotate(-90) scale(1 0.94)" font-size="6.84" text-anchor="middle" font-weight="bold" stroke="#111" stroke-width="0.18">The level of IL-33 (pg/mL)</text>
<text x="6.5" y="210.7" font-size="8.6" font-weight="bold" textLength="10.9" lengthAdjust="spacingAndGlyphs" stroke="#111" stroke-width="0.4">(E)</text>
<text x="96.58 101.82" y="228.70" font-size="7.8" font-weight="bold" text-anchor="middle" stroke="#111" stroke-width="0.35">**</text>
<circle cx="33.09" cy="241.67" r="1.35"/>
<circle cx="35.64" cy="242.55" r="1.35"/>
<circle cx="38.18" cy="239.13" r="1.35"/>
<circle cx="40.73" cy="240.58" r="1.35"/>
<circle cx="42.18" cy="237.82" r="1.35"/>
<circle cx="43.49" cy="238.91" r="1.35"/>
<circle cx="46.04" cy="241.09" r="1.35"/>
<circle cx="48.73" cy="239.64" r="1.35"/>
<circle cx="51.27" cy="241.45" r="1.35"/>
<circle cx="43.49" cy="243.05" r="1.35"/>
<circle cx="40.87" cy="245.82" r="1.35"/>
<circle cx="43.49" cy="247.64" r="1.35"/>
<circle cx="40.87" cy="251.27" r="1.35"/>
<circle cx="38.33" cy="253.45" r="1.35"/>
<circle cx="35.78" cy="255.13" r="1.35"/>
<circle cx="43.49" cy="254.18" r="1.35"/>
<circle cx="46.04" cy="253.67" r="1.35"/>
<circle cx="48.73" cy="253.09" r="1.35"/>
<circle cx="43.49" cy="259.64" r="1.35"/>
<circle cx="41.09" cy="261.24" r="1.35"/>
<circle cx="41.09" cy="263.27" r="1.35"/>
<circle cx="43.49" cy="265.09" r="1.35"/>
<circle cx="44.73" cy="268.00" r="1.35"/>
<circle cx="42.18" cy="268.95" r="1.35"/>
<circle cx="39.64" cy="269.96" r="1.35"/>
<circle cx="47.27" cy="270.18" r="1.35"/>
<circle cx="36.00" cy="271.64" r="1.35"/>
<circle cx="37.45" cy="272.87" r="1.35"/>
<circle cx="40.87" cy="275.05" r="1.35"/>
<circle cx="43.49" cy="275.27" r="1.35"/>
<circle cx="46.04" cy="274.76" r="1.35"/>
<circle cx="48.73" cy="275.49" r="1.35"/>
<circle cx="38.33" cy="276.91" r="1.35"/>
<circle cx="40.87" cy="277.05" r="1.35"/>
<circle cx="43.49" cy="276.91" r="1.35"/>
<circle cx="46.04" cy="276.91" r="1.35"/>
<circle cx="48.73" cy="277.27" r="1.35"/>
<circle cx="48.73" cy="278.73" r="1.35"/>
<circle cx="35.78" cy="279.45" r="1.35"/>
<circle cx="38.33" cy="280.69" r="1.35"/>
<circle cx="40.87" cy="282.73" r="1.35"/>
<circle cx="43.49" cy="282.87" r="1.35"/>
<circle cx="46.18" cy="283.45" r="1.35"/>
<circle cx="42.18" cy="287.67" r="1.35"/>
<line x1="32.00" y1="262.40" x2="52.80" y2="262.40" stroke="#111" stroke-width="0.8"/>
<rect x="69.38" y="240.32" width="2.7" height="2.7"/>
<rect x="67.20" y="241.34" width="2.7" height="2.7"/>
<rect x="66.47" y="243.74" width="2.7" height="2.7"/>
<rect x="68.65" y="245.20" width="2.7" height="2.7"/>
<rect x="70.83" y="245.56" width="2.7" height="2.7"/>
<rect x="65.74" y="246.65" width="2.7" height="2.7"/>
<rect x="74.10" y="246.65" width="2.7" height="2.7"/>
<rect x="63.92" y="248.10" width="2.7" height="2.7"/>
<rect x="67.56" y="247.74" width="2.7" height="2.7"/>
<rect x="71.92" y="248.10" width="2.7" height="2.7"/>
<rect x="74.83" y="248.83" width="2.7" height="2.7"/>
<rect x="61.74" y="249.20" width="2.7" height="2.7"/>
<rect x="59.20" y="250.80" width="2.7" height="2.7"/>
<rect x="65.01" y="250.29" width="2.7" height="2.7"/>
<rect x="67.92" y="250.29" width="2.7" height="2.7"/>
<rect x="70.47" y="250.29" width="2.7" height="2.7"/>
<rect x="73.38" y="250.29" width="2.7" height="2.7"/>
<rect x="75.92" y="250.65" width="2.7" height="2.7"/>
<rect x="77.74" y="252.10" width="2.7" height="2.7"/>
<rect x="66.10" y="252.47" width="2.7" height="2.7"/>
<rect x="69.01" y="252.47" width="2.7" height="2.7"/>
<rect x="71.92" y="252.47" width="2.7" height="2.7"/>
<rect x="74.10" y="253.70" width="2.7" height="2.7"/>
<rect x="65.01" y="254.29" width="2.7" height="2.7"/>
<rect x="62.83" y="256.83" width="2.7" height="2.7"/>
<rect x="66.47" y="257.56" width="2.7" height="2.7"/>
<rect x="68.29" y="259.38" width="2.7" height="2.7"/>
<rect x="70.10" y="260.83" width="2.7" height="2.7"/>
<rect x="68.29" y="267.01" width="2.7" height="2.7"/>
<line x1="59.30" y1="252.00" x2="80.10" y2="252.00" stroke="#111" stroke-width="0.8"/>
<path d="M97.13 240.91L98.63 243.62L95.63 243.62Z"/>
<path d="M91.82 243.60L93.32 246.31L90.32 246.31Z"/>
<path d="M102.51 243.60L104.01 246.31L101.01 246.31Z"/>
<path d="M97.13 245.42L98.63 248.12L95.63 248.12Z"/>
<path d="M89.27 246.51L90.77 249.22L87.77 249.22Z"/>
<path d="M94.58 247.46L96.08 250.16L93.08 250.16Z"/>
<path d="M89.27 250.51L90.77 253.22L87.77 253.22Z"/>
<path d="M99.82 249.64L101.32 252.34L98.32 252.34Z"/>
<path d="M105.05 249.93L106.55 252.63L103.55 252.63Z"/>
<path d="M94.58 253.56L96.08 256.26L93.08 256.26Z"/>
<path d="M99.82 253.56L101.32 256.26L98.32 256.26Z"/>
<path d="M99.82 257.64L101.32 260.34L98.32 260.34Z"/>
<line x1="86.70" y1="250.20" x2="107.70" y2="250.20" stroke="#111" stroke-width="0.8"/>
</g>
<g id="panelF">
<line x1="159.70" y1="228.40" x2="159.70" y2="251.50" stroke="#111" stroke-width="1.2"/>
<line x1="157.70" y1="251.50" x2="161.70" y2="251.50" stroke="#111" stroke-width="0.7"/>
<line x1="159.70" y1="257.80" x2="159.70" y2="311.80" stroke="#111" stroke-width="1.2"/>
<line x1="157.70" y1="257.80" x2="161.70" y2="257.80" stroke="#111" stroke-width="0.7"/>
<line x1="159.10" y1="311.20" x2="249.80" y2="311.20" stroke="#111" stroke-width="1.05"/>
<line x1="156.20" y1="311.00" x2="159.70" y2="311.00" stroke="#111" stroke-width="0.9"/>
<text transform="translate(155.50 313.49) scale(1 1.22)" font-size="5.7" text-anchor="end" font-weight="bold" stroke="#111" stroke-width="0.18">0</text>
<line x1="156.20" y1="293.80" x2="159.70" y2="293.80" stroke="#111" stroke-width="0.9"/>
<text transform="translate(155.50 296.29) scale(1 1.22)" font-size="5.7" text-anchor="end" font-weight="bold" stroke="#111" stroke-width="0.18">10</text>
<line x1="156.20" y1="276.60" x2="159.70" y2="276.60" stroke="#111" stroke-width="0.9"/>
<text transform="translate(155.50 279.09) scale(1 1.22)" font-size="5.7" text-anchor="end" font-weight="bold" stroke="#111" stroke-width="0.18">20</text>
<line x1="156.20" y1="259.40" x2="159.70" y2="259.40" stroke="#111" stroke-width="0.9"/>
<text transform="translate(155.50 261.89) scale(1 1.22)" font-size="5.7" text-anchor="end" font-weight="bold" stroke="#111" stroke-width="0.18">30</text>
<line x1="156.20" y1="248.50" x2="159.70" y2="248.50" stroke="#111" stroke-width="0.9"/>
<text transform="translate(155.50 250.99) scale(1 1.22)" font-size="5.7" text-anchor="end" font-weight="bold" stroke="#111" stroke-width="0.18">50</text>
<line x1="156.20" y1="238.60" x2="159.70" y2="238.60" stroke="#111" stroke-width="0.9"/>
<text transform="translate(155.50 241.09) scale(1 1.22)" font-size="5.7" text-anchor="end" font-weight="bold" stroke="#111" stroke-width="0.18">100</text>
<line x1="156.20" y1="229.00" x2="159.70" y2="229.00" stroke="#111" stroke-width="0.9"/>
<text transform="translate(155.50 231.49) scale(1 1.22)" font-size="5.7" text-anchor="end" font-weight="bold" stroke="#111" stroke-width="0.18">150</text>
<line x1="178.00" y1="311.20" x2="178.00" y2="314.70" stroke="#111" stroke-width="0.9"/>
<text x="179.80" y="321.40" font-size="6.85" text-anchor="end" font-weight="bold" transform="rotate(-45 179.80 321.40)" stroke="#111" stroke-width="0.18">NC</text>
<line x1="204.80" y1="311.20" x2="204.80" y2="314.70" stroke="#111" stroke-width="0.9"/>
<text x="206.60" y="321.40" font-size="6.85" text-anchor="end" font-weight="bold" transform="rotate(-45 206.60 321.40)" stroke="#111" stroke-width="0.18">AD</text>
<line x1="232.00" y1="311.20" x2="232.00" y2="314.70" stroke="#111" stroke-width="0.9"/>
<text x="233.80" y="321.40" font-size="6.85" text-anchor="end" font-weight="bold" transform="rotate(-45 233.80 321.40)" stroke="#111" stroke-width="0.18">AD with TOMM40 variants</text>
<text transform="translate(140.80 269.10) rotate(-90) scale(1 1)" font-size="6.80" text-anchor="middle" font-weight="bold" stroke="#111" stroke-width="0.18">The level of TNF-α (pg/mL)</text>
<text x="137.5" y="209.8" font-size="8.6" font-weight="bold" textLength="10.6" lengthAdjust="spacingAndGlyphs" stroke="#111" stroke-width="0.4">(F)</text>
<circle cx="177.80" cy="247.05" r="1.35"/>
<circle cx="177.80" cy="261.80" r="1.35"/>
<circle cx="177.78" cy="273.09" r="1.35"/>
<circle cx="178.58" cy="275.64" r="1.35"/>
<circle cx="176.76" cy="277.45" r="1.35"/>
<circle cx="175.09" cy="278.91" r="1.35"/>
<circle cx="173.64" cy="279.42" r="1.35"/>
<circle cx="178.73" cy="280.36" r="1.35"/>
<circle cx="181.27" cy="279.64" r="1.35"/>
<circle cx="182.36" cy="278.91" r="1.35"/>
<circle cx="177.27" cy="284.36" r="1.35"/>
<circle cx="170.00" cy="288.00" r="1.35"/>
<circle cx="171.82" cy="288.73" r="1.35"/>
<circle cx="173.64" cy="287.64" r="1.35"/>
<circle cx="175.45" cy="286.55" r="1.35"/>
<circle cx="177.64" cy="285.09" r="1.35"/>
<circle cx="179.82" cy="286.55" r="1.35"/>
<circle cx="182.00" cy="287.64" r="1.35"/>
<circle cx="184.18" cy="287.27" r="1.35"/>
<circle cx="186.00" cy="286.55" r="1.35"/>
<circle cx="171.09" cy="289.82" r="1.35"/>
<circle cx="174.73" cy="290.55" r="1.35"/>
<circle cx="177.27" cy="289.82" r="1.35"/>
<circle cx="179.82" cy="290.55" r="1.35"/>
<circle cx="182.00" cy="290.18" r="1.35"/>
<circle cx="173.27" cy="292.36" r="1.35"/>
<circle cx="175.82" cy="292.73" r="1.35"/>
<circle cx="178.36" cy="292.36" r="1.35"/>
<circle cx="180.91" cy="292.73" r="1.35"/>
<circle cx="183.09" cy="293.09" r="1.35"/>
<circle cx="173.64" cy="294.55" r="1.35"/>
<circle cx="176.18" cy="294.91" r="1.35"/>
<circle cx="178.73" cy="294.55" r="1.35"/>
<circle cx="181.27" cy="294.91" r="1.35"/>
<circle cx="183.45" cy="295.27" r="1.35"/>
<circle cx="175.45" cy="296.36" r="1.35"/>
<circle cx="178.00" cy="296.51" r="1.35"/>
<circle cx="180.55" cy="296.36" r="1.35"/>
<circle cx="169.64" cy="298.18" r="1.35"/>
<circle cx="171.09" cy="298.18" r="1.35"/>
<circle cx="172.55" cy="298.18" r="1.35"/>
<circle cx="174.00" cy="298.18" r="1.35"/>
<circle cx="175.45" cy="298.18" r="1.35"/>
<circle cx="176.91" cy="298.18" r="1.35"/>
<circle cx="178.36" cy="298.18" r="1.35"/>
<circle cx="179.82" cy="298.18" r="1.35"/>
<circle cx="181.27" cy="298.18" r="1.35"/>
<circle cx="182.73" cy="298.18" r="1.35"/>
<circle cx="184.18" cy="298.18" r="1.35"/>
<circle cx="185.64" cy="298.18" r="1.35"/>
<line x1="169.00" y1="287.60" x2="186.60" y2="287.60" stroke="#111" stroke-width="0.8"/>
<rect x="203.15" y="248.30" width="2.3" height="2.3"/>
<rect x="204.35" y="250.35" width="2.3" height="2.3"/>
<rect x="203.15" y="256.85" width="2.3" height="2.3"/>
<rect x="204.35" y="260.65" width="2.3" height="2.3"/>
<rect x="203.61" y="271.72" width="2.3" height="2.3"/>
<rect x="203.18" y="277.76" width="2.3" height="2.3"/>
<rect x="204.34" y="279.72" width="2.3" height="2.3"/>
<rect x="202.30" y="281.90" width="2.3" height="2.3"/>
<rect x="203.61" y="283.58" width="2.3" height="2.3"/>
<rect x="202.30" y="284.30" width="2.3" height="2.3"/>
<rect x="204.49" y="284.67" width="2.3" height="2.3"/>
<rect x="206.67" y="285.76" width="2.3" height="2.3"/>
<rect x="201.21" y="286.49" width="2.3" height="2.3"/>
<rect x="203.40" y="286.85" width="2.3" height="2.3"/>
<rect x="205.58" y="287.21" width="2.3" height="2.3"/>
<rect x="207.76" y="287.58" width="2.3" height="2.3"/>
<rect x="200.49" y="289.03" width="2.3" height="2.3"/>
<rect x="202.67" y="289.40" width="2.3" height="2.3"/>
<rect x="204.85" y="289.40" width="2.3" height="2.3"/>
<rect x="207.03" y="289.76" width="2.3" height="2.3"/>
<rect x="208.85" y="290.12" width="2.3" height="2.3"/>
<rect x="199.40" y="291.21" width="2.3" height="2.3"/>
<rect x="201.94" y="291.58" width="2.3" height="2.3"/>
<rect x="204.12" y="291.58" width="2.3" height="2.3"/>
<rect x="206.67" y="291.94" width="2.3" height="2.3"/>
<rect x="208.85" y="292.30" width="2.3" height="2.3"/>
<rect x="197.94" y="293.76" width="2.3" height="2.3"/>
<rect x="200.12" y="293.76" width="2.3" height="2.3"/>
<rect x="202.30" y="293.76" width="2.3" height="2.3"/>
<rect x="204.85" y="294.12" width="2.3" height="2.3"/>
<rect x="207.03" y="294.12" width="2.3" height="2.3"/>
<rect x="209.21" y="294.49" width="2.3" height="2.3"/>
<rect x="195.54" y="297.03" width="2.3" height="2.3"/>
<rect x="196.92" y="297.03" width="2.3" height="2.3"/>
<rect x="198.30" y="297.03" width="2.3" height="2.3"/>
<rect x="199.69" y="297.03" width="2.3" height="2.3"/>
<rect x="201.07" y="297.03" width="2.3" height="2.3"/>
<rect x="202.45" y="297.03" width="2.3" height="2.3"/>
<rect x="203.83" y="297.03" width="2.3" height="2.3"/>
<rect x="205.21" y="297.03" width="2.3" height="2.3"/>
<rect x="206.60" y="297.03" width="2.3" height="2.3"/>
<rect x="207.98" y="297.03" width="2.3" height="2.3"/>
<rect x="209.36" y="297.03" width="2.3" height="2.3"/>
<rect x="210.74" y="297.03" width="2.3" height="2.3"/>
<rect x="212.12" y="297.03" width="2.3" height="2.3"/>
<line x1="195.80" y1="288.70" x2="214.00" y2="288.70" stroke="#111" stroke-width="0.8"/>
<path d="M231.85 234.56L233.10 236.81L230.60 236.81Z"/>
<path d="M231.85 276.26L233.05 278.42L230.65 278.42Z"/>
<path d="M231.64 290.00L232.74 291.98L230.54 291.98Z"/>
<path d="M231.64 294.51L232.74 296.49L230.54 296.49Z"/>
<path d="M233.45 295.82L234.55 297.80L232.35 297.80Z"/>
<path d="M224.36 297.86L225.46 299.84L223.26 299.84Z"/>
<path d="M226.18 297.86L227.28 299.84L225.08 299.84Z"/>
<path d="M228.00 297.86L229.10 299.84L226.90 299.84Z"/>
<path d="M229.45 297.64L230.55 299.62L228.35 299.62Z"/>
<path d="M235.27 297.42L236.37 299.40L234.17 299.40Z"/>
<path d="M237.09 297.86L238.19 299.84L235.99 299.84Z"/>
<path d="M238.91 297.86L240.01 299.84L237.81 299.84Z"/>
<path d="M240.00 298.00L241.10 299.98L238.90 299.98Z"/>
<line x1="222.90" y1="281.80" x2="241.10" y2="281.80" stroke="#555" stroke-width="1.1"/>
</g>
<g id="panelG">
<line x1="305.40" y1="226.40" x2="305.40" y2="309.90" stroke="#111" stroke-width="1.2"/>
<line x1="304.80" y1="309.30" x2="397.00" y2="309.30" stroke="#111" stroke-width="1.05"/>
<line x1="301.90" y1="309.20" x2="305.40" y2="309.20" stroke="#111" stroke-width="0.9"/>
<text transform="translate(301.20 311.95) scale(1 1.22)" font-size="6.3" text-anchor="end" font-weight="bold" stroke="#111" stroke-width="0.18">0.0</text>
<line x1="301.90" y1="281.80" x2="305.40" y2="281.80" stroke="#111" stroke-width="0.9"/>
<text transform="translate(301.20 284.55) scale(1 1.22)" font-size="6.3" text-anchor="end" font-weight="bold" stroke="#111" stroke-width="0.18">1.5</text>
<line x1="301.90" y1="254.40" x2="305.40" y2="254.40" stroke="#111" stroke-width="0.9"/>
<text transform="translate(301.20 257.15) scale(1 1.22)" font-size="6.3" text-anchor="end" font-weight="bold" stroke="#111" stroke-width="0.18">3.0</text>
<line x1="301.90" y1="227.00" x2="305.40" y2="227.00" stroke="#111" stroke-width="0.9"/>
<text transform="translate(301.20 229.75) scale(1 1.22)" font-size="6.3" text-anchor="end" font-weight="bold" stroke="#111" stroke-width="0.18">4.5</text>
<line x1="322.60" y1="309.30" x2="322.60" y2="312.80" stroke="#111" stroke-width="0.9"/>
<text x="325.30" y="319.10" font-size="6.85" text-anchor="end" font-weight="bold" transform="rotate(-45 325.30 319.10)" stroke="#111" stroke-width="0.18">NC</text>
<line x1="351.20" y1="309.30" x2="351.20" y2="312.80" stroke="#111" stroke-width="0.9"/>
<text x="353.90" y="319.10" font-size="6.85" text-anchor="end" font-weight="bold" transform="rotate(-45 353.90 319.10)" stroke="#111" stroke-width="0.18">AD</text>
<line x1="379.60" y1="309.30" x2="379.60" y2="312.80" stroke="#111" stroke-width="0.9"/>
<text x="382.30" y="319.10" font-size="6.85" text-anchor="end" font-weight="bold" transform="rotate(-45 382.30 319.10)" stroke="#111" stroke-width="0.18">AD with TOMM40 variants</text>
<text transform="translate(288.35 267.55) rotate(-90) scale(1 1)" font-size="6.72" text-anchor="middle" font-weight="bold" stroke="#111" stroke-width="0.18">The level of COX-2 (ng/mL)</text>
<text x="277.7" y="209.6" font-size="8.6" font-weight="bold" textLength="12.4" lengthAdjust="spacingAndGlyphs" stroke="#111" stroke-width="0.4">(G)</text>
<text x="377.63 382.87" y="228.10" font-size="7.8" font-weight="bold" text-anchor="middle" stroke="#111" stroke-width="0.35">**</text>
<circle cx="322.90" cy="294.55" r="1.15"/>
<circle cx="313.09" cy="300.15" r="1.15"/>
<circle cx="314.18" cy="300.15" r="1.15"/>
<circle cx="315.27" cy="300.15" r="1.15"/>
<circle cx="316.36" cy="300.15" r="1.15"/>
<circle cx="317.45" cy="300.15" r="1.15"/>
<circle cx="318.55" cy="300.15" r="1.15"/>
<circle cx="319.64" cy="300.15" r="1.15"/>
<circle cx="320.73" cy="300.15" r="1.15"/>
<circle cx="321.82" cy="300.15" r="1.15"/>
<circle cx="322.91" cy="300.15" r="1.15"/>
<circle cx="324.00" cy="300.15" r="1.15"/>
<circle cx="325.09" cy="300.15" r="1.15"/>
<circle cx="326.18" cy="300.15" r="1.15"/>
<circle cx="327.27" cy="300.15" r="1.15"/>
<circle cx="328.36" cy="300.15" r="1.15"/>
<circle cx="329.45" cy="300.15" r="1.15"/>
<circle cx="330.55" cy="300.15" r="1.15"/>
<circle cx="331.64" cy="300.15" r="1.15"/>
<circle cx="332.73" cy="300.15" r="1.15"/>
<circle cx="314.91" cy="301.02" r="1.15"/>
<circle cx="316.73" cy="301.02" r="1.15"/>
<circle cx="318.55" cy="301.02" r="1.15"/>
<circle cx="320.36" cy="301.02" r="1.15"/>
<circle cx="322.18" cy="301.02" r="1.15"/>
<circle cx="324.00" cy="301.02" r="1.15"/>
<circle cx="325.82" cy="301.02" r="1.15"/>
<circle cx="327.64" cy="301.02" r="1.15"/>
<circle cx="329.45" cy="301.02" r="1.15"/>
<circle cx="331.27" cy="301.02" r="1.15"/>
<circle cx="332.00" cy="301.67" r="1.15"/>
<rect x="350.15" y="286.15" width="2.3" height="2.3"/>
<rect x="349.90" y="291.95" width="2.3" height="2.3"/>
<rect x="349.05" y="294.15" width="2.3" height="2.3"/>
<rect x="351.25" y="295.55" width="2.3" height="2.3"/>
<rect x="340.16" y="299.00" width="2.3" height="2.3"/>
<rect x="341.32" y="299.00" width="2.3" height="2.3"/>
<rect x="342.49" y="299.00" width="2.3" height="2.3"/>
<rect x="343.65" y="299.00" width="2.3" height="2.3"/>
<rect x="344.81" y="299.00" width="2.3" height="2.3"/>
<rect x="345.98" y="299.00" width="2.3" height="2.3"/>
<rect x="347.14" y="299.00" width="2.3" height="2.3"/>
<rect x="348.30" y="299.00" width="2.3" height="2.3"/>
<rect x="349.47" y="299.00" width="2.3" height="2.3"/>
<rect x="350.63" y="299.00" width="2.3" height="2.3"/>
<rect x="351.80" y="299.00" width="2.3" height="2.3"/>
<rect x="352.96" y="299.00" width="2.3" height="2.3"/>
<rect x="354.12" y="299.00" width="2.3" height="2.3"/>
<rect x="355.29" y="299.00" width="2.3" height="2.3"/>
<rect x="356.45" y="299.00" width="2.3" height="2.3"/>
<rect x="357.61" y="299.00" width="2.3" height="2.3"/>
<rect x="358.78" y="299.00" width="2.3" height="2.3"/>
<rect x="359.94" y="299.00" width="2.3" height="2.3"/>
<rect x="341.76" y="299.80" width="2.3" height="2.3"/>
<rect x="343.80" y="299.80" width="2.3" height="2.3"/>
<rect x="345.83" y="299.80" width="2.3" height="2.3"/>
<rect x="347.87" y="299.80" width="2.3" height="2.3"/>
<rect x="349.90" y="299.80" width="2.3" height="2.3"/>
<rect x="351.94" y="299.80" width="2.3" height="2.3"/>
<rect x="353.98" y="299.80" width="2.3" height="2.3"/>
<rect x="356.01" y="299.80" width="2.3" height="2.3"/>
<rect x="358.05" y="299.80" width="2.3" height="2.3"/>
<rect x="359.94" y="302.12" width="2.3" height="2.3"/>
<rect x="359.80" y="300.89" width="2.3" height="2.3"/>
<line x1="340.70" y1="299.50" x2="361.90" y2="299.50" stroke="#111" stroke-width="0.8"/>
<path d="M380.00 234.56L381.25 236.81L378.75 236.81Z"/>
<path d="M379.60 252.36L380.85 254.61L378.35 254.61Z"/>
<path d="M370.18 299.68L371.38 301.84L368.98 301.84Z"/>
<path d="M371.64 300.12L372.84 302.28L370.44 302.28Z"/>
<path d="M373.09 300.26L374.29 302.42L371.89 302.42Z"/>
<path d="M374.55 300.41L375.75 302.57L373.35 302.57Z"/>
<path d="M376.00 300.12L377.20 302.28L374.80 302.28Z"/>
<path d="M377.45 299.39L378.65 301.55L376.25 301.55Z"/>
<path d="M379.05 297.72L380.25 299.88L377.85 299.88Z"/>
<path d="M380.73 297.72L381.93 299.88L379.53 299.88Z"/>
<path d="M380.00 296.63L381.20 298.79L378.80 298.79Z"/>
<path d="M381.82 299.17L383.02 301.33L380.62 301.33Z"/>
<path d="M383.27 299.90L384.47 302.06L382.07 302.06Z"/>
<path d="M384.73 300.26L385.93 302.42L383.53 302.42Z"/>
<path d="M386.18 300.12L387.38 302.28L384.98 302.28Z"/>
<path d="M387.64 299.54L388.84 301.70L386.44 301.70Z"/>
<path d="M389.45 301.86L390.65 304.02L388.25 304.02Z"/>
<line x1="368.90" y1="292.40" x2="390.90" y2="292.40" stroke="#111" stroke-width="0.8"/>
</g>
</svg>
</body></html>
